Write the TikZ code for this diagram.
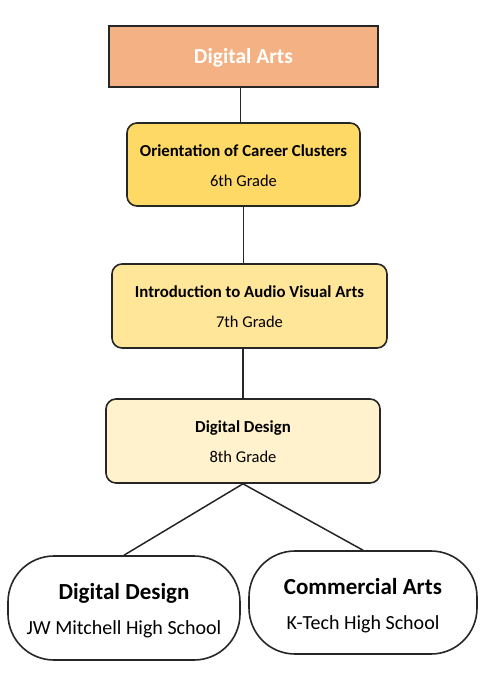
\documentclass[tikz,border=0pt]{standalone}
\usepackage{fontspec}
\setmainfont{Carlito}
\usetikzlibrary{calc}
\definecolor{topfill}{HTML}{F4B183}
\definecolor{fillA}{HTML}{FFD966}
\definecolor{fillB}{HTML}{FFE699}
\definecolor{fillC}{HTML}{FFF2CC}
\definecolor{edge}{HTML}{262626}
\tikzset{
  boxbase/.style={draw=edge, line width=1.6pt, inner sep=0pt},
  topbox/.style={boxbase, fill=topfill, minimum width=269pt, minimum height=61pt},
  gradebox/.style={boxbase, rounded corners=10pt},
  schoolbox/.style={boxbase, fill=white, rounded corners=46pt},
  ttl/.style={anchor=base, inner sep=0pt, font=\fontsize{16.8}{18}\selectfont\bfseries},
  sub/.style={anchor=base, inner sep=0pt, font=\fontsize{16.5}{18}\selectfont},
  bigttl/.style={anchor=base, inner sep=0pt, font=\fontsize{23}{26}\selectfont\bfseries},
  bigsub/.style={anchor=base, inner sep=0pt, font=\fontsize{20}{23}\selectfont},
  conn/.style={draw=edge, line width=1.5pt}
}
\begin{document}
\begin{tikzpicture}[x=1pt,y=-1pt]
\useasboundingbox (0,0) rectangle (480,687);
% top
\node[topbox] (top) at (243.5,56.5) {};
\node[anchor=base, inner sep=0pt, text=white, font=\fontsize{21.5}{24}\selectfont\bfseries] (topt) at (243.5,64) {Digital Arts};
% grade 6
\node[gradebox, fill=fillA, minimum width=233pt, minimum height=83pt] (b2) at (243.5,164.5) {};
\node[ttl] (b2t) at (243.5,156.5) {Orientation of Career Clusters};
\node[sub] (b2s) at (243.5,186.5) {6th Grade};
% grade 7
\node[gradebox, fill=fillB, minimum width=275pt, minimum height=84pt] (b3) at (249.5,306) {};
\node[ttl] (b3t) at (249.5,297.5) {Introduction to Audio Visual Arts};
\node[sub] (b3s) at (249.5,327.5) {7th Grade};
% grade 8
\node[gradebox, fill=fillC, minimum width=274pt, minimum height=84pt] (b4) at (243,441) {};
\node[ttl] (b4t) at (243,432.5) {Digital Design};
\node[sub] (b4s) at (243,462.5) {8th Grade};
% schools
\node[schoolbox, minimum width=232pt, minimum height=104pt] (l) at (124,608) {};
\node[bigttl] (lt) at (124,599.5) {Digital Design};
\node[bigsub] (ls) at (124,634.6) {JW Mitchell High School};
\node[schoolbox, minimum width=228pt, minimum height=103pt] (r) at (363,602.5) {};
\node[bigttl] (rt) at (363,594.5) {Commercial Arts};
\node[bigsub] (rs) at (363,629.6) {K-Tech High School};
% connectors
\draw[conn] ($(top.south)+(-3,0)$) -- ($(top.south |- b2.north)+(-3,0)$);
\draw[conn] (b2.south) -- (b2.south |- b3.north);
\draw[conn] (b4.north |- b3.south) -- (b4.north);
\draw[conn] (b4.south) -- (l.north);
\draw[conn] (b4.south) -- (r.north);
\end{tikzpicture}
\end{document}
